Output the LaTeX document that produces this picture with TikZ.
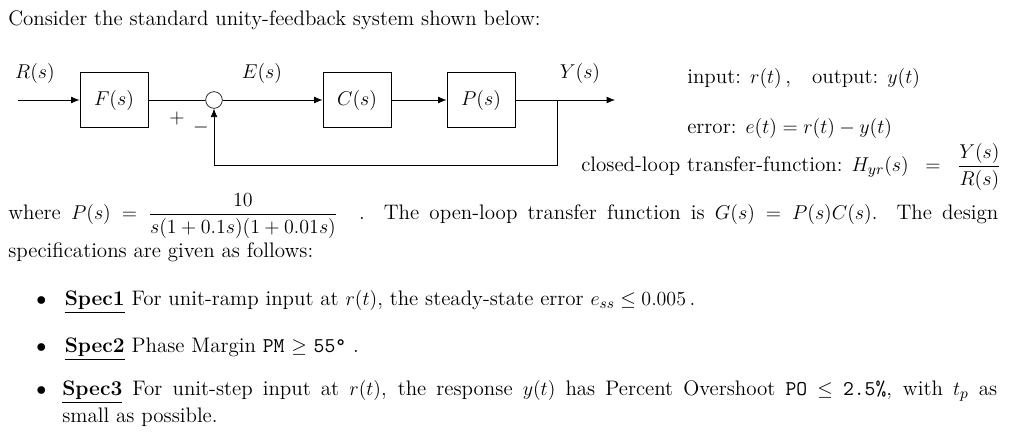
\documentclass[tikz,border=0pt]{standalone}
\usepackage{amsmath,amssymb}
\usetikzlibrary{arrows.meta}
\begin{document}
\begin{tikzpicture}[x=0.6pt,y=-0.6pt,font=\fontsize{12.6}{16}\selectfont,
  blk/.style={draw,minimum width=41pt,minimum height=33pt,inner sep=0pt},
  sig/.style={-{Latex[length=5pt,width=4pt]}},
  txt/.style={anchor=west,inner sep=0pt},
  lbl/.style={inner sep=0pt}]
\useasboundingbox (0,0) rectangle (1024,434);
\node[txt] (t0) at (8,20) {Consider the standard unity-feedback system shown below:};
\coordinate (in) at (18,100);
\node[blk] (F) at (114,100) {$F(s)$};
\node[draw,circle,minimum size=10pt,inner sep=0pt] (sum) at (214,100) {};
\node[blk] (C) at (357,100) {$C(s)$};
\node[blk] (P) at (481,100) {$P(s)$};
\coordinate (out) at (615,100);
\coordinate (br) at (557,100);
\coordinate (fb) at (557,165);
\node[lbl] (R) at (35,73) {$R(s)$};
\node[lbl] (E) at (262,73) {$E(s)$};
\node[lbl] (Y) at (580,73) {$Y(s)$};
\node[lbl] (plus) at (177,118) {$+$};
\node[lbl] (minus) at (201,127) {$-$};
\draw[sig] (in) -- (F);
\draw (F) -- (sum);
\draw[sig] (sum) -- (C);
\draw[sig] (C) -- (P);
\draw[sig] (P) -- (out);
\draw[sig] (br) -- (fb) -| (sum);
\node[txt] (io) at (687,78) {input: $r(t)$\,,\quad output: $y(t)$};
\node[txt] (err) at (687,128) {error: $e(t)=r(t)-y(t)$};
\node[txt] (cl) at (581,167) {closed-loop transfer-function: $H_{yr}(s)\;\;=\;\;\dfrac{Y(s)}{R(s)}$};
\node[txt] (wh) at (8,216) {\hbox to 594pt{where $P(s)=\dfrac{10}{s(1+0.1s)(1+0.01s)}\;$ . The open-loop transfer function is $G(s)=P(s)C(s)$. The design}};
\node[txt] (sp) at (8,252) {specifications are given as follows:};
\node[txt] (s1) at (36,302) {$\bullet$\;\; \underline{\textbf{Spec1}} For unit-ramp input at $r(t)$, the steady-state error $e_{ss}\le 0.005$\,.};
\node[txt] (s2) at (36,349) {$\bullet$\;\; \underline{\textbf{Spec2}} Phase Margin \texttt{PM} $\geq$ \texttt{55\textdegree} .};
\node[txt] (b3) at (36,391) {$\bullet$};
\node[anchor=north west,inner sep=0pt,text width=561pt,align=justify] (s3) at (62,380) {\underline{\textbf{Spec3}} For unit-step input at $r(t)$, the response $y(t)$ has Percent Overshoot \texttt{PO} $\le$ \texttt{2.5\%}, with $t_p$ as\linebreak small as possible.};
\end{tikzpicture}
\end{document}
